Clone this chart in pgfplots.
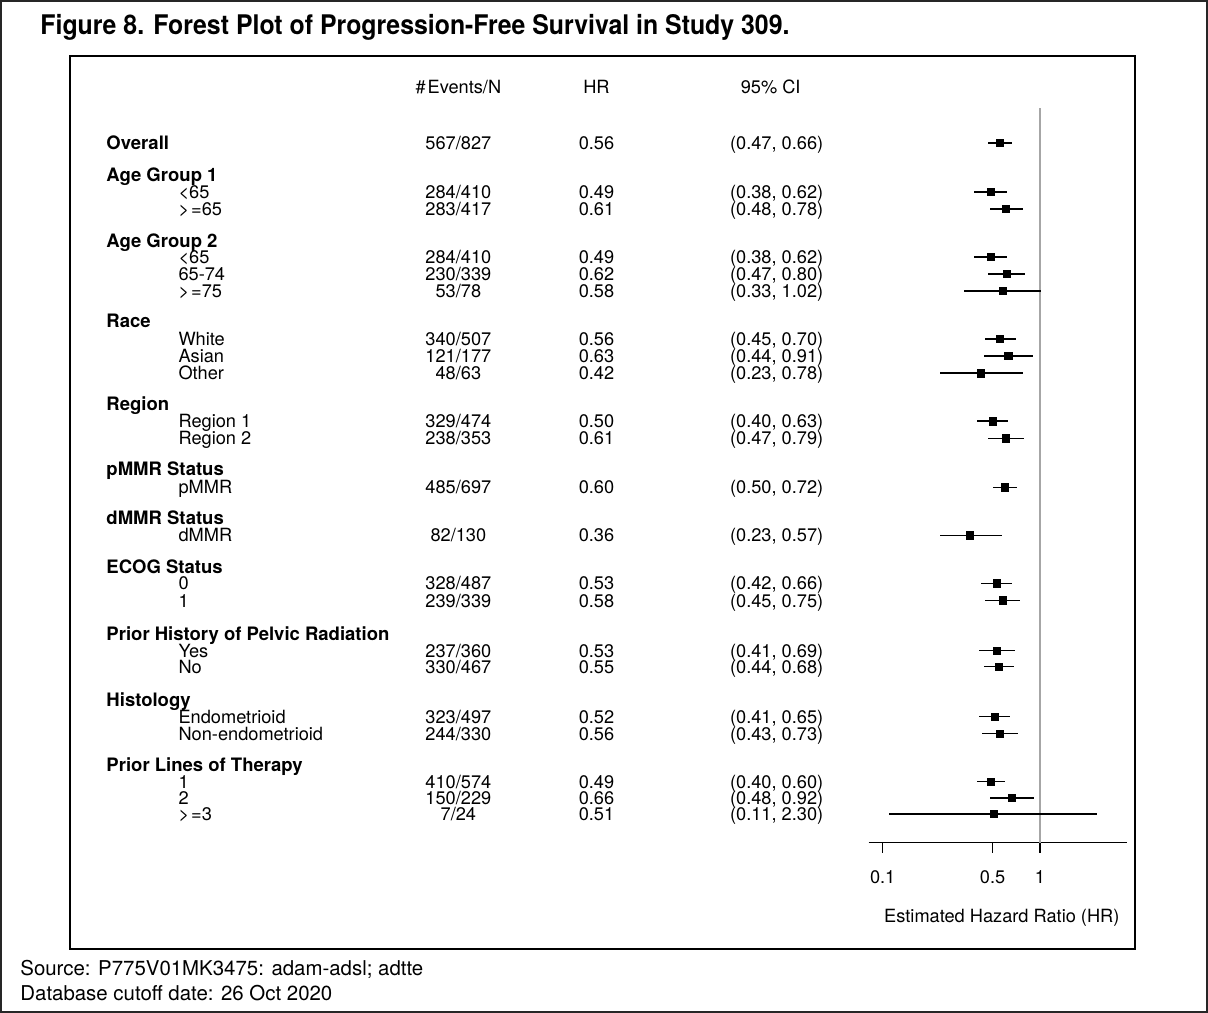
\documentclass[border=0pt]{standalone}
\usepackage{fontspec}
\setmainfont{TeX Gyre Heros}
\newfontfamily\titlefont[FakeStretch=0.92]{TeX Gyre Heros}
\usepackage{pgfplots}
\usepackage{pgfplotstable}
\pgfplotsset{compat=1.18}

% pos = vertical row position (px from top), hr, lower and upper 95% CI
\pgfplotstableread{
pos hr lo hi
143 0.56 0.47 0.66
192 0.49 0.38 0.62
209 0.61 0.48 0.78
257 0.49 0.38 0.62
274 0.62 0.47 0.80
291 0.58 0.33 1.02
339 0.56 0.45 0.70
356 0.63 0.44 0.91
373 0.42 0.23 0.78
421 0.50 0.40 0.63
438 0.61 0.47 0.79
487 0.60 0.50 0.72
535 0.36 0.23 0.57
583 0.53 0.42 0.66
600 0.58 0.45 0.75
650 0.53 0.41 0.69
666 0.55 0.44 0.68
716 0.52 0.41 0.65
733 0.56 0.43 0.73
781 0.49 0.40 0.60
797 0.66 0.48 0.92
813 0.51 0.11 2.30
}\forestdata

\newcommand{\grp}[2]{\node[anchor=base west, inner sep=0pt, yshift=-3.25pt, font=\fontsize{9.25}{11}\selectfont\bfseries] at (axis cs:106,#1) {#2};}
\newcommand{\vals}[4]{%
\node[anchor=base, inner sep=0pt, yshift=-3.25pt] at (axis cs:458,#1) {#2};
\node[anchor=base, inner sep=0pt, yshift=-3.25pt] at (axis cs:596,#1) {#3};
\node[anchor=base, inner sep=0pt, yshift=-3.25pt] at (axis cs:776,#1) {#4};}
\newcommand{\sub}[5]{%
\node[anchor=base west, inner sep=0pt, yshift=-3.25pt] at (axis cs:178,#1) {#2};
\vals{#1}{#3}{#4}{#5}}

\begin{document}
\begin{tikzpicture}[font=\fontsize{9.1}{11}\selectfont]
% ---------- overlay: frames and text (pixel coordinates) ----------
\begin{axis}[at={(0pt,0pt)}, anchor=south west, scale only axis,
  width=604pt, height=507pt, xmin=0, xmax=1208, ymin=0, ymax=1014,
  y dir=reverse, hide axis, clip=false]
\draw[black!85, line width=1pt] (axis cs:1,1) rectangle (axis cs:1206,1011);
\draw[black, line width=1pt] (axis cs:70,56) rectangle (axis cs:1134,948);
\node[anchor=base west, inner sep=0pt] at (axis cs:40,34)
  {\titlefont\bfseries\fontsize{13.5}{15}\selectfont Figure 8. Forest Plot of Progression-Free Survival in Study 309.};
\node[anchor=base west, inner sep=0pt] at (axis cs:20,975) {\fontsize{10.2}{12}\selectfont Source: P775V01MK3475: adam-adsl; adtte};
\node[anchor=base west, inner sep=0pt] at (axis cs:20,1000) {\fontsize{10.2}{12}\selectfont Database cutoff date: 26 Oct 2020};
% column headers
\node[anchor=base, inner sep=0pt, yshift=-3.25pt] at (axis cs:458,87) {\#\kern1pt Events/N};
\node[anchor=base, inner sep=0pt, yshift=-3.25pt] at (axis cs:596,87) {HR};
\node[anchor=base, inner sep=0pt, yshift=-3.25pt] at (axis cs:770,87) {95\% CI};
% rows
\grp{143}{Overall}\vals{143}{567/827}{0.56}{(0.47, 0.66)}
\grp{175}{Age Group 1}
\sub{192}{<65}{284/410}{0.49}{(0.38, 0.62)}
\sub{209}{>\kern1pt=65}{283/417}{0.61}{(0.48, 0.78)}
\grp{241}{Age Group 2}
\sub{257}{<65}{284/410}{0.49}{(0.38, 0.62)}
\sub{274}{65-74}{230/339}{0.62}{(0.47, 0.80)}
\sub{291}{>\kern1pt=75}{53/78}{0.58}{(0.33, 1.02)}
\grp{321}{Race}
\sub{339}{White}{340/507}{0.56}{(0.45, 0.70)}
\sub{356}{Asian}{121/177}{0.63}{(0.44, 0.91)}
\sub{373}{Other}{48/63}{0.42}{(0.23, 0.78)}
\grp{404}{Region}
\sub{421}{Region 1}{329/474}{0.50}{(0.40, 0.63)}
\sub{438}{Region 2}{238/353}{0.61}{(0.47, 0.79)}
\grp{469}{pMMR Status}
\sub{487}{pMMR}{485/697}{0.60}{(0.50, 0.72)}
\grp{518}{dMMR Status}
\sub{535}{dMMR}{82/130}{0.36}{(0.23, 0.57)}
\grp{567}{ECOG Status}
\sub{583}{0}{328/487}{0.53}{(0.42, 0.66)}
\sub{600}{1}{239/339}{0.58}{(0.45, 0.75)}
\grp{633}{Prior History of Pelvic Radiation}
\sub{650}{Yes}{237/360}{0.53}{(0.41, 0.69)}
\sub{666}{No}{330/467}{0.55}{(0.44, 0.68)}
\grp{699}{Histology}
\sub{716}{Endometrioid}{323/497}{0.52}{(0.41, 0.65)}
\sub{733}{Non-endometrioid}{244/330}{0.56}{(0.43, 0.73)}
\grp{764}{Prior Lines of Therapy}
\sub{781}{1}{410/574}{0.49}{(0.40, 0.60)}
\sub{797}{2}{150/229}{0.66}{(0.48, 0.92)}
\sub{813}{>\kern1pt=3}{7/24}{0.51}{(0.11, 2.30)}
\end{axis}
% ---------- forest plot ----------
\begin{axis}[at={(434pt,86pt)}, anchor=south west, scale only axis,
  width=129pt, height=371pt,
  xmode=log, xmin=0.0815, xmax=3.58, ymin=-842, ymax=-100,
  axis x line=bottom, axis y line=none,
  x axis line style={-, line width=0.8pt},
  xtick={0.1,0.5,1}, xticklabels={0.1,0.5,1}, minor xtick={},
  tick align=outside, major tick length=5pt,
  xtick style={black, line width=0.8pt},
  xticklabel style={yshift=-5.5pt},
  xlabel={Estimated Hazard Ratio (HR)},
  xlabel style={at={(axis description cs:0.5155,0)}, anchor=center, yshift=-37.5pt},
  clip=false]
\addplot[gray!70, line width=1pt] coordinates {(1,-108) (1,-842)};
\addplot[black, only marks, mark=square*, mark size=1.8pt,
  error bars/.cd, x dir=both, x explicit, error mark=none,
  error bar style={line width=0.85pt, black}]
  table[x=hr, y expr=-\thisrow{pos},
        x error minus expr=\thisrow{hr}-\thisrow{lo},
        x error plus expr=\thisrow{hi}-\thisrow{hr}] {\forestdata};
\end{axis}
\end{tikzpicture}
\end{document}
